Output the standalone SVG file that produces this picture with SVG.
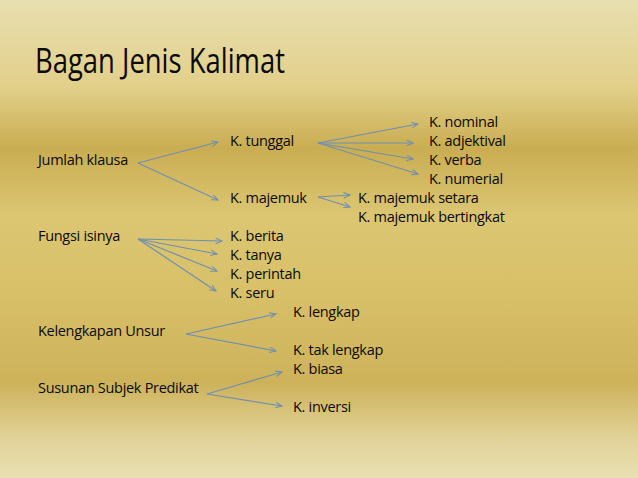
<svg xmlns="http://www.w3.org/2000/svg" width="638" height="478" viewBox="0 0 638 478">
<defs>
<linearGradient id="bg" x1="0" y1="0" x2="0" y2="1">
<stop offset="0" stop-color="#e8dfb0"/>
<stop offset="0.18" stop-color="#e2d08a"/>
<stop offset="0.31" stop-color="#c9ad52"/>
<stop offset="0.45" stop-color="#dcc672"/>
<stop offset="0.62" stop-color="#d8c068"/>
<stop offset="0.8" stop-color="#cdb25a"/>
<stop offset="0.92" stop-color="#e2d39a"/>
<stop offset="1" stop-color="#e9dfb2"/>
</linearGradient>
<marker id="ah" viewBox="0 0 10 10" refX="9" refY="5" markerWidth="8" markerHeight="8" markerUnits="userSpaceOnUse" orient="auto">
<path d="M1,1.5 L9,5 L1,8.5" fill="none" stroke="#6f8fb2" stroke-width="1.3"/>
</marker>
<style>
text{font-family:"Open Sans","Noto Sans",sans-serif;fill:#0a0a0a;}
.t{font-size:14.5px;letter-spacing:-0.3px;}
.title{font-size:35px;}
.c line{stroke:#6f8fb2;stroke-width:1.2;marker-end:url(#ah);}
</style>
</defs>
<rect width="638" height="478" fill="url(#bg)"/>
<text class="title" x="35" y="73" textLength="250" lengthAdjust="spacingAndGlyphs">Bagan Jenis Kalimat</text>
<g id="jumlah"><text class="t" x="38" y="165">Jumlah klausa</text></g>
<g id="tunggal"><text class="t" x="230" y="146">K. tunggal</text></g>
<g id="majemuk"><text class="t" x="230" y="203">K. majemuk</text></g>
<g id="nominal"><text class="t" x="429" y="127">K. nominal</text></g>
<g id="adjektival"><text class="t" x="429" y="146">K. adjektival</text></g>
<g id="verba"><text class="t" x="429" y="165">K. verba</text></g>
<g id="numerial"><text class="t" x="429" y="184">K. numerial</text></g>
<g id="setara"><text class="t" x="358" y="203">K. majemuk setara</text></g>
<g id="bertingkat"><text class="t" x="358" y="222">K. majemuk bertingkat</text></g>
<g id="fungsi"><text class="t" x="38" y="241">Fungsi isinya</text></g>
<g id="berita"><text class="t" x="230" y="241">K. berita</text></g>
<g id="tanya"><text class="t" x="230" y="260">K. tanya</text></g>
<g id="perintah"><text class="t" x="230" y="279">K. perintah</text></g>
<g id="seru"><text class="t" x="230" y="298">K. seru</text></g>
<g id="lengkap"><text class="t" x="293" y="317">K. lengkap</text></g>
<g id="kelengkapan"><text class="t" x="38" y="336">Kelengkapan Unsur</text></g>
<g id="taklengkap"><text class="t" x="293" y="355">K. tak lengkap</text></g>
<g id="biasa"><text class="t" x="293" y="374">K. biasa</text></g>
<g id="susunan"><text class="t" x="38" y="393">Susunan Subjek Predikat</text></g>
<g id="inversi"><text class="t" x="293" y="412">K. inversi</text></g>
<g id="connectors" class="c">
<line x1="138" y1="163" x2="218" y2="142"/>
<line x1="138" y1="163" x2="218" y2="200"/>
<line x1="318" y1="143" x2="418" y2="124"/>
<line x1="318" y1="143" x2="413" y2="143"/>
<line x1="318" y1="143" x2="413" y2="159"/>
<line x1="318" y1="143" x2="418" y2="174"/>
<line x1="318" y1="197" x2="350" y2="195"/>
<line x1="318" y1="197" x2="350" y2="207"/>
<line x1="138" y1="239" x2="222" y2="241"/>
<line x1="138" y1="239" x2="217" y2="254"/>
<line x1="138" y1="239" x2="217" y2="271"/>
<line x1="138" y1="239" x2="216" y2="291"/>
<line x1="186" y1="334" x2="276" y2="314"/>
<line x1="186" y1="334" x2="276" y2="351"/>
<line x1="207" y1="394" x2="282" y2="372"/>
<line x1="207" y1="394" x2="282" y2="406"/>
</g>
</svg>
